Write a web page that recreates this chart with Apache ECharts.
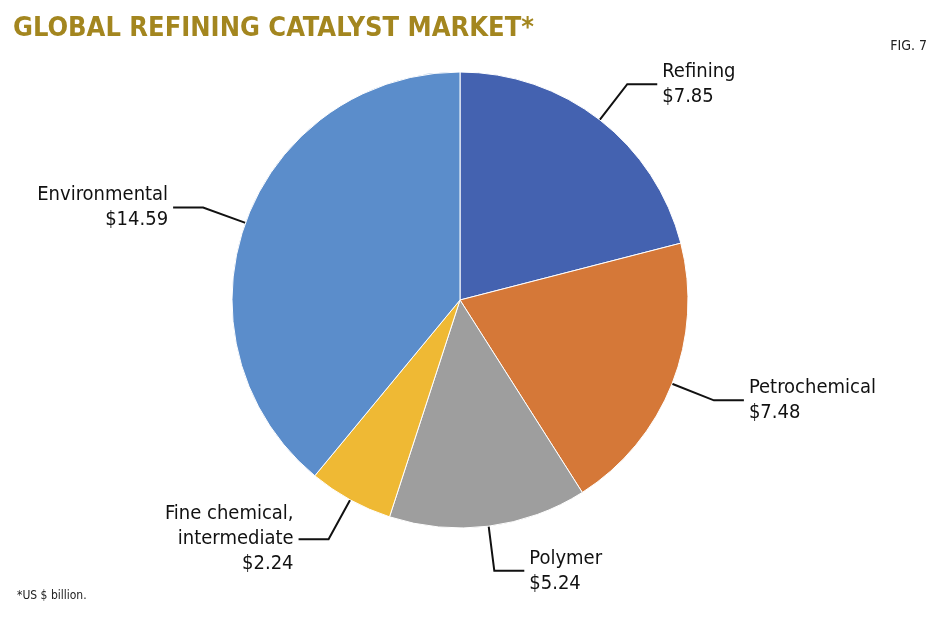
<!DOCTYPE html>
<html><head><meta charset="utf-8">
<script src="https://cdn.jsdelivr.net/npm/echarts@6/dist/echarts.min.js"></script>
<style>html,body{margin:0;background:#fff}#c{width:950px;height:629px}</style>
</head><body><div id="c"></div>
<script>
const categories = ['Refining','Petrochemical','Polymer','Fine chemical,\nintermediate','Environmental'];
const values = [7.85, 7.48, 5.24, 2.24, 14.59];
const colors = ['#4462b0','#d57838','#9e9e9e','#efb934','#5b8dcb'];
const chart = echarts.init(document.getElementById('c'));
chart.setOption({
  backgroundColor:'#fff',
  title:[
    {text:'GLOBAL REFINING CATALYST MARKET*',left:8,top:10,textStyle:{fontFamily:'DejaVu Sans Condensed, sans-serif',fontWeight:'bold',fontSize:27,color:'#a3861f'}},
    {text:'FIG. 7',right:18,top:34,textStyle:{fontFamily:'DejaVu Sans Condensed, sans-serif',fontWeight:'normal',fontSize:14,color:'#222'}},
    {text:'*US $ billion.',left:12,bottom:22,textStyle:{fontFamily:'DejaVu Sans Condensed, sans-serif',fontWeight:'normal',fontSize:12,color:'#222'}}
  ],
  series:[{
    type:'pie',
    center:[460,300],
    radius:[0,228],
    startAngle:90,
    clockwise:true,
    data:categories.map((n,i)=>({name:n,value:values[i],itemStyle:{color:colors[i]}})),
    itemStyle:{borderColor:'#fff',borderWidth:1},
    label:{show:true,position:'outside',color:'#111',fontSize:20,lineHeight:25,align:'center',
      fontFamily:'DejaVu Sans Condensed, sans-serif',
      formatter:p=>p.name+'\n$'+p.value.toFixed(2)},
    labelLine:{show:true,length:45,length2:30,lineStyle:{color:'#111',width:2}}
  }]
});
</script></body></html>
